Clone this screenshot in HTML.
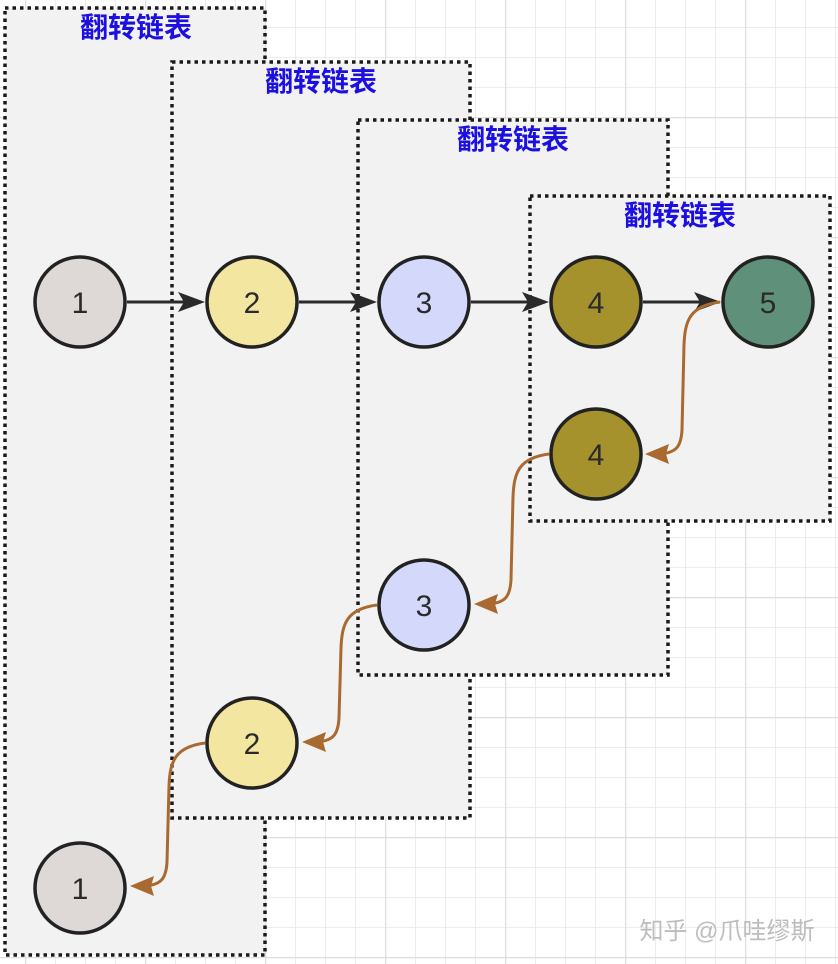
<!DOCTYPE html>
<html><head><meta charset="utf-8"><style>
html,body{margin:0;padding:0;background:#fff;}
svg{display:block;}
</style></head><body>
<svg width="838" height="964" viewBox="0 0 838 964" xmlns="http://www.w3.org/2000/svg">
<defs>
<pattern id="minor" x="25" y="27" width="30" height="30" patternUnits="userSpaceOnUse">
<path d="M0 0V30M0 0H30" stroke="#e6e6e6" stroke-width="1.5" fill="none"/>
</pattern>
<pattern id="major" x="25" y="117" width="120" height="120" patternUnits="userSpaceOnUse">
<path d="M0 0V120M0 0H120" stroke="#dedede" stroke-width="2.5" fill="none"/>
</pattern>
</defs>
<rect width="838" height="964" fill="url(#minor)"/>
<rect width="838" height="964" fill="url(#major)"/>
<g fill="#f2f2f2" stroke="#1a1a1a" stroke-width="3.5" stroke-dasharray="3.5 4">
<rect x="5" y="8" width="260" height="947"/>
<rect x="172" y="62" width="298" height="756"/>
<rect x="358" y="120" width="310" height="555"/>
<rect x="530" y="196" width="300" height="325"/>
</g>
<g font-family="Liberation Sans, Noto Sans CJK SC, sans-serif" font-weight="bold" font-size="28" fill="#1c10e0" text-anchor="middle">
<text x="136" y="37">翻转链表</text>
<text x="321" y="91">翻转链表</text>
<text x="513" y="149">翻转链表</text>
<text x="680" y="225">翻转链表</text>
</g>
<g stroke="#2a2a2a" stroke-width="3" fill="none">
<line x1="127" y1="302" x2="186" y2="302"/>
<line x1="299" y1="302" x2="358" y2="302"/>
<line x1="471" y1="302" x2="530" y2="302"/>
<line x1="643" y1="302" x2="702" y2="302"/>
</g>
<g fill="#2a2a2a">
<path d="M205,302 L178,292 L184,302 L178,312 Z"/>
<path d="M377,302 L350,292 L356,302 L350,312 Z"/>
<path d="M549,302 L522,292 L528,302 L522,312 Z"/>
<path d="M721,302 L694,292 L700,302 L694,312 Z"/>
</g>
<g stroke="#a86a30" stroke-width="3" fill="none">
<path d="M720,302 C690,306 685,320 684,345 L682,430 C681,448 675,452 662,454"/>
<path d="M549,454 C519,458 514,472 513,497 L511,580 C510,598 504,602 491,604"/>
<path d="M377,605 C347,609 342,623 341,648 L339,718 C338,736 332,740 319,742"/>
<path d="M205,743 C175,747 170,761 169,786 L167,862 C166,880 160,884 147,886"/>
</g>
<g fill="#a86a30">
<path d="M645,454 L669,444 L666,454 L669,464 Z"/>
<path d="M474,604 L498,594 L495,604 L498,614 Z"/>
<path d="M302,742 L326,732 L323,742 L326,752 Z"/>
<path d="M130,886 L154,876 L151,886 L154,896 Z"/>
</g>
<g stroke="#222" stroke-width="3.5">
<circle cx="80" cy="302" r="45" fill="#ded9d6"/>
<circle cx="252" cy="302" r="45" fill="#f3e6a0"/>
<circle cx="424" cy="302" r="45" fill="#d4d8fb"/>
<circle cx="596" cy="302" r="45" fill="#a5922d"/>
<circle cx="768" cy="302" r="45" fill="#5f917a"/>
<circle cx="596" cy="454" r="45" fill="#a5922d"/>
<circle cx="424" cy="605" r="45" fill="#d4d8fb"/>
<circle cx="252" cy="743" r="45" fill="#f3e6a0"/>
<circle cx="80" cy="888" r="45" fill="#ded9d6"/>
</g>
<g font-family="Liberation Sans, sans-serif" font-size="30" fill="#2a2a2a" text-anchor="middle">
<text x="80" y="313">1</text>
<text x="252" y="313">2</text>
<text x="424" y="313">3</text>
<text x="596" y="313">4</text>
<text x="768" y="313">5</text>
<text x="596" y="465">4</text>
<text x="424" y="616">3</text>
<text x="252" y="754">2</text>
<text x="80" y="899">1</text>
</g>
<text x="727" y="939" text-anchor="middle" font-family="Liberation Sans, Noto Sans CJK SC, sans-serif" font-size="24" fill="#bdbdbd">知乎 @爪哇缪斯</text>
</svg>
</body></html>
